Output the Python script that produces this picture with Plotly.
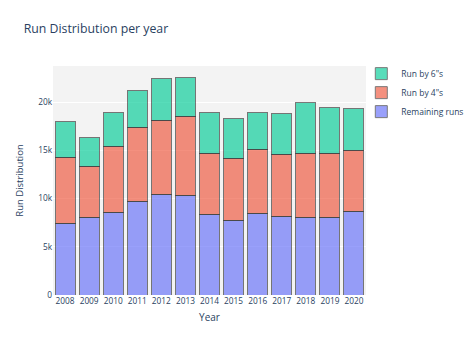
import plotly.graph_objects as go

# Season-wise run breakdown
years = ["2008", "2009", "2010", "2011", "2012", "2013", "2014",
         "2015", "2016", "2017", "2018", "2019", "2020"]
remaining_runs = [7400, 8030, 8510, 9690, 10420, 10310, 8370,
                  7770, 8480, 8100, 8060, 8060, 8620]
runs_by_fours = [6820, 5260, 6850, 7650, 7680, 8200, 6270,
                 6400, 6570, 6470, 6610, 6650, 6360]
runs_by_sixes = [3740, 3040, 3530, 3840, 4360, 4050, 4290,
                 4170, 3840, 4220, 5260, 4700, 4400]

series = [
    ("Remaining runs", remaining_runs, "#636efa"),
    ('Run by 4"s', runs_by_fours, "#EF553B"),
    ('Run by 6"s', runs_by_sixes, "#00cc96"),
]

fig = go.Figure()
for name, vals, color in series:
    fig.add_trace(go.Bar(
        x=years, y=vals, name=name,
        marker=dict(color=color, line=dict(color="#333333", width=1)),
        opacity=0.65,
    ))

fig.update_layout(
    template="plotly",
    barmode="stack",
    bargap=0.17,
    width=474, height=348,
    margin=dict(l=53, r=108, t=66, b=53, autoexpand=False),
    title=dict(text="Run Distribution per year", font=dict(size=12.3), x=0.05),
    font=dict(family="Open Sans, Verdana, sans-serif", size=8.5, color="#2a3f5f"),
    plot_bgcolor="#f3f3f3",
    paper_bgcolor="white",
    legend=dict(font=dict(size=8.5), x=0.985, y=1.03, tracegroupgap=0,
                bgcolor="rgba(0,0,0,0)"),
    xaxis=dict(title=dict(text="Year", font=dict(size=10), standoff=8),
               tickfont=dict(size=8.3), tickangle=0),
    yaxis=dict(title=dict(text="Run Distribution", font=dict(size=9.5), standoff=12),
               tickfont=dict(size=8.3), gridcolor="white", zeroline=False),
)

fig.write_html("out.html")
